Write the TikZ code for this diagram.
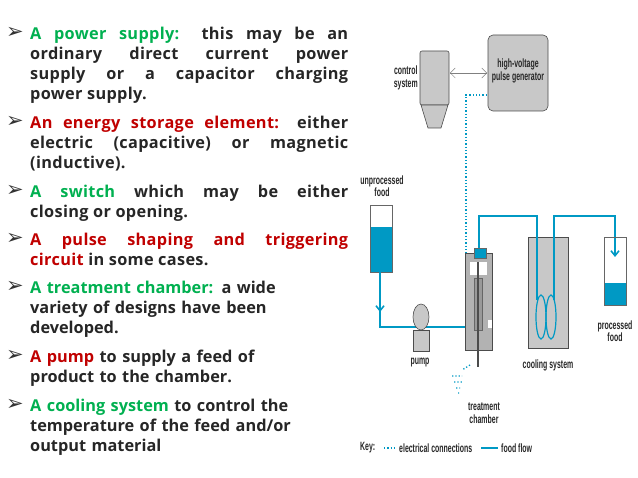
\documentclass[tikz,border=0pt]{standalone}
\usepackage{fontspec}
\setmainfont{Open Sans}[LetterSpace=2]
\newfontfamily\symf{DejaVu Sans}
\newfontfamily\condf[FakeStretch=0.58]{Liberation Sans}
\usetikzlibrary{arrows.meta}
\definecolor{gr}{RGB}{0,176,80}
\definecolor{rd}{RGB}{192,0,0}
\definecolor{fb}{RGB}{0,153,196}
\definecolor{gy}{RGB}{200,200,200}
\tikzset{
 item/.style={anchor=north west,text width=318pt,inner sep=0pt,font=\fontsize{16.3}{20}\selectfont\bfseries,align=justify,text=black!85},
 itemr/.style={item,align=left,font=\fontsize{16.3}{20}\selectfont\bfseries\addfontfeatures{LetterSpace=0}},
 bul/.style={anchor=north west,inner sep=0pt,font=\fontsize{21}{20}\selectfont\symf,text=black!80},
 lab/.style={font=\fontsize{12}{12.5}\selectfont\condf\bfseries,inner sep=0pt,align=center,text=black!85},
 food/.style={fb,line width=1.6pt},
 elec/.style={fb,dotted,line width=1.3pt},
 box/.style={draw=black!70,fill=gy,line width=0.6pt}
}
\begin{document}
\begin{tikzpicture}[x=1pt,y=-1pt]
\useasboundingbox (0,0) rectangle (638,478);
% bullets
\foreach \y in {27,116,185,233,281,350,399}{\node[bul] at (6,\y) {➢};}
\node[item] (t1) at (30,27) {\textcolor{gr}{A power supply:} this may be an\linebreak ordinary direct current power\linebreak supply or a capacitor charging\linebreak power supply.};
\node[item] (t2) at (30,116) {\textcolor{rd}{An energy storage element:} either\linebreak electric (capacitive) or magnetic\linebreak (inductive).};
\node[item] (t3) at (30,185) {\textcolor{gr}{A switch} which may be either\linebreak closing or opening.};
\node[item] (t4) at (30,233) {\textcolor{rd}{A pulse shaping and triggering\linebreak circuit} in some cases.};
\node[itemr] (t5) at (30,281) {\textcolor{gr}{A treatment chamber:} a wide\\ variety of designs have been\\ developed.};
\node[itemr] (t6) at (30,350) {\textcolor{rd}{A pump} to supply a feed of\\ product to the chamber.};
\node[itemr] (t7) at (30,399) {\textcolor{gr}{A cooling system} to control the\\ temperature of the feed and/or\\ output material};
% control system
\draw[box,rounded corners=2pt] (420,51) rectangle (449,105);
\draw[box] (421,105) -- (448,105) -- (441,128) -- (428,128) -- cycle;
\node[lab,anchor=east] (cs) at (418,78) {control\\system};
\draw[box,rounded corners=5pt] (488,35) rectangle (548,111);
\node[lab] (hv) at (518,71) {high-voltage\\pulse generator};
\draw[gray,{Straight Barb[length=5pt]}-{Straight Barb[length=5pt]}] (450,73) -- (487,73);
\draw[elec] (487,95) -- (466,95) -- (466,258);
% unprocessed beaker
\node[lab] at (382,186) {unprocessed\\food};
\fill[fb] (370,227) rectangle (392,272);
\draw[black!60] (370,205) rectangle (392,272);
\draw[food] (380,272) -- (380,327) -- (468,327);
\draw[food,-{Straight Barb[length=5pt,width=8pt]}] (380,300) -- (380,312);
% pump
\draw[box] (413,330) rectangle (429,351);
\draw[box] (421,317) ellipse (8 and 13);
\node[lab] at (420,363) {pump};
% chamber
\draw[box,fill=gray!60] (465,253) rectangle (492,350);
\fill[white] (470,262) rectangle (487,275);
\draw[black!60,fill=gray!80] (474,278) rectangle (482,330);
\draw[black!70,line width=1.4pt] (478,262) -- (478,367);
\fill[white] (488,320) rectangle (492,328);
\draw[fill=fb,draw=black!60] (474,248) rectangle (486,258);
\draw[elec] (470,365) -- (462,370) (452,376) -- (462,376) (454,382) -- (462,382) (456,388) -- (460,388) (458,393) -- (459,393);
\node[lab] at (484,413) {treatment\\chamber};
% cooling
\draw[box] (528,237) rectangle (568,348);
\draw[food] (479,248) -- (479,216) -- (537,216) -- (537,300);
\draw[food] (554,300) -- (554,216) -- (615,216) -- (615,250);
\draw[fb,line width=1.2pt] (541,317) ellipse (5 and 22);
\draw[fb,line width=1.2pt] (551,317) ellipse (5 and 22);
\node[lab] at (548,365) {cooling system};
% processed beaker
\fill[fb] (604,283) rectangle (626,305);
\draw[black!60] (604,237) rectangle (626,305);
\draw[food,-{Straight Barb[length=5pt,width=8pt]}] (615,245) -- (615,257);
\node[lab] at (615,331) {processed\\food};
% key
\node[lab,anchor=west] (key) at (360,448) {Key:};
\draw[elec] (384,448) -- (396,448);
\node[lab,anchor=west] (ec) at (399,448) {electrical connections};
\draw[food] (481,448) -- (498,448);
\node[lab,anchor=west] (ff) at (501,448) {food flow};
\end{tikzpicture}
\end{document}
